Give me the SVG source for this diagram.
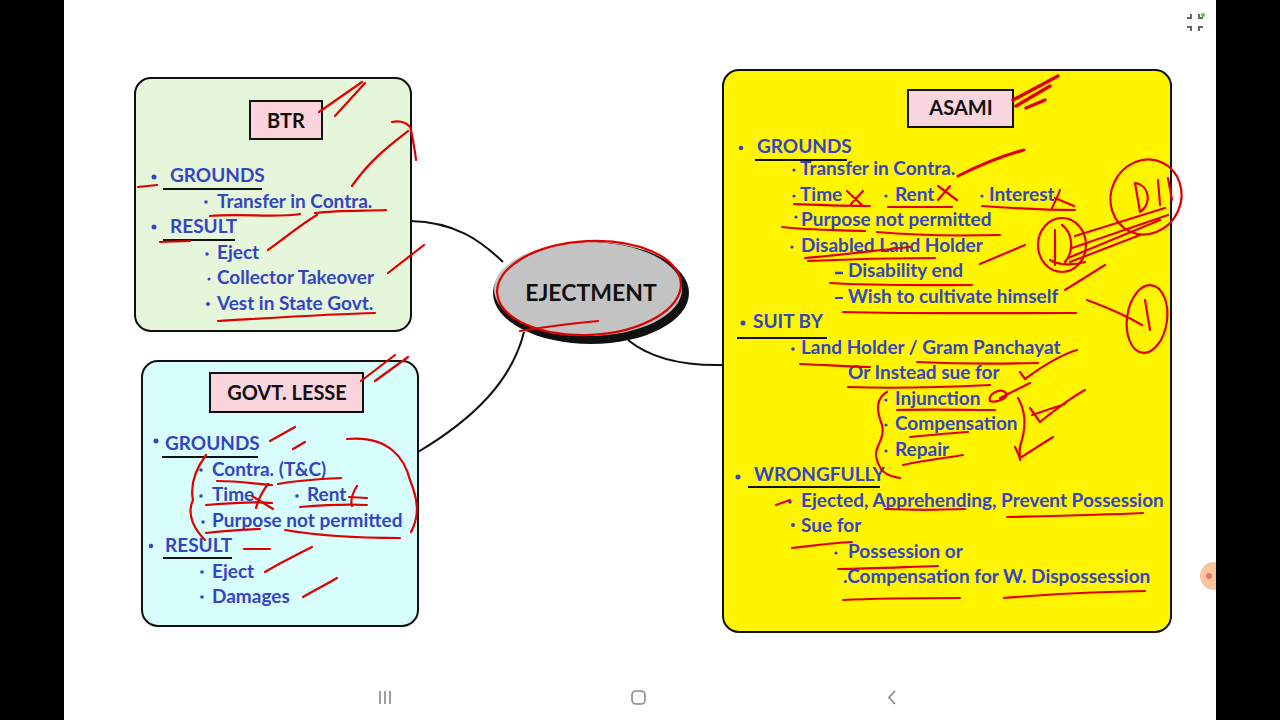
<svg xmlns="http://www.w3.org/2000/svg" width="1280" height="720" viewBox="0 0 1280 720">
<defs>
<style>
.t{font-family:Lato,"Open Sans","Liberation Sans",sans-serif;font-weight:bold;font-size:19px;fill:#3445c2}
.h{font-family:Lato,"Open Sans","Liberation Sans",sans-serif;font-weight:bold;font-size:20px;fill:#111;text-anchor:middle}
.box{stroke:#111;stroke-width:2}
.ttl{fill:#fbd5de;stroke:#111;stroke-width:2}
.ul{stroke:#111;stroke-width:2}
.b{fill:#3445c2}
.con{fill:none;stroke:#111;stroke-width:2}
.r{fill:none;stroke:#e00000;stroke-width:2.2;stroke-linecap:round;stroke-linejoin:round}
.nav{fill:none;stroke:#888;stroke-width:1.6}
</style>
</defs>
<rect x="0" y="0" width="1280" height="720" fill="#ffffff"/>

<g id="connectors">
<path class="con" d="M410,221 C455,222 480,240 503,262"/>
<path class="con" d="M418,452 C475,418 512,380 524,332"/>
<path class="con" d="M628,340 C650,358 680,366 723,365"/>
</g>

<g id="btr">
<rect class="box" x="135" y="78" width="276" height="253" rx="16" fill="#e5f6da"/>
<rect class="ttl" x="250" y="101" width="72" height="38"/>
<text class="h" x="286" y="128">BTR</text>
<circle class="b" cx="154" cy="177" r="2.5"/>
<text class="t" x="170" y="182">GROUNDS</text>
<line class="ul" x1="163" y1="189" x2="262" y2="189"/>
<circle class="b" cx="206" cy="202" r="1.8"/>
<text class="t" x="217" y="208">Transfer in Contra.</text>
<circle class="b" cx="154" cy="227" r="2.5"/>
<text class="t" x="170" y="233">RESULT</text>
<line class="ul" x1="163" y1="240" x2="235" y2="240"/>
<circle class="b" cx="207" cy="254" r="1.8"/>
<text class="t" x="217" y="259">Eject</text>
<circle class="b" cx="209" cy="279" r="1.5"/>
<text class="t" x="217" y="284">Collector Takeover</text>
<circle class="b" cx="208" cy="304" r="2"/>
<text class="t" x="217" y="310">Vest in State Govt.</text>
</g>

<g id="govt-lesse">
<rect class="box" x="142" y="361" width="276" height="265" rx="16" fill="#d8fdfd"/>
<rect class="ttl" x="210" y="373" width="153" height="39"/>
<text class="h" x="287" y="400">GOVT. LESSE</text>
<circle class="b" cx="156" cy="441" r="2.5"/>
<text class="t" x="165" y="450">GROUNDS</text>
<line class="ul" x1="162" y1="457" x2="258" y2="457"/>
<circle class="b" cx="201" cy="470" r="1.8"/>
<text class="t" x="212" y="476">Contra. (T&amp;C)</text>
<circle class="b" cx="201" cy="496" r="1.8"/>
<text class="t" x="212" y="501">Time</text>
<circle class="b" cx="297" cy="496" r="1.8"/>
<text class="t" x="307" y="501">Rent</text>
<circle class="b" cx="203" cy="522" r="1.8"/>
<text class="t" x="212" y="527">Purpose not permitted</text>
<circle class="b" cx="151" cy="546" r="2.2"/>
<text class="t" x="165" y="552">RESULT</text>
<line class="ul" x1="163" y1="558" x2="232" y2="558"/>
<circle class="b" cx="202" cy="572" r="1.8"/>
<text class="t" x="212" y="578">Eject</text>
<circle class="b" cx="202" cy="597" r="1.8"/>
<text class="t" x="212" y="603">Damages</text>
</g>

<g id="ejectment">
<ellipse cx="591" cy="293" rx="98" ry="51" fill="#111"/>
<ellipse cx="588" cy="289" rx="94" ry="47" fill="#c3c3c3"/>
<text class="h" x="591" y="301" style="font-size:23px">EJECTMENT</text>
</g>

<g id="asami">
<rect class="box" x="723" y="70" width="448" height="562" rx="16" fill="#fff500"/>
<rect class="ttl" x="908" y="90" width="105" height="37"/>
<text class="h" x="961" y="115">ASAMI</text>
<circle class="b" cx="741" cy="148" r="2.3"/>
<text class="t" x="757" y="153">GROUNDS</text>
<line class="ul" x1="755" y1="160" x2="847" y2="160"/>
<circle class="b" cx="794" cy="170" r="1.6"/>
<text class="t" x="800" y="175">Transfer in Contra.</text>
<circle class="b" cx="794" cy="196" r="1.6"/>
<text class="t" x="800" y="201">Time</text>
<circle class="b" cx="886" cy="196" r="1.6"/>
<text class="t" x="895" y="201">Rent</text>
<circle class="b" cx="982" cy="196" r="1.6"/>
<text class="t" x="989" y="201">Interest</text>
<circle class="b" cx="796" cy="217" r="1.6"/>
<text class="t" x="801" y="226">Purpose not permitted</text>
<circle class="b" cx="792" cy="247" r="1.6"/>
<text class="t" x="801" y="252">Disabled Land Holder</text>
<line x1="835" y1="273" x2="843" y2="273" stroke="#3445c2" stroke-width="2.5"/>
<text class="t" x="848" y="277">Disability end</text>
<line x1="835" y1="298" x2="843" y2="298" stroke="#3445c2" stroke-width="2"/>
<text class="t" x="848" y="303">Wish to cultivate himself</text>
<circle class="b" cx="743" cy="323" r="2.5"/>
<text class="t" x="753" y="328">SUIT BY</text>
<line class="ul" x1="737" y1="338" x2="827" y2="338"/>
<circle class="b" cx="793" cy="349" r="1.8"/>
<text class="t" x="801" y="354">Land Holder / Gram Panchayat</text>
<text class="t" x="848" y="379">Or Instead sue for</text>
<circle class="b" cx="886" cy="400" r="1.6"/>
<text class="t" x="895" y="405">Injunction</text>
<circle class="b" cx="886" cy="425" r="1.6"/>
<text class="t" x="895" y="430">Compensation</text>
<circle class="b" cx="886" cy="451" r="1.6"/>
<text class="t" x="895" y="456">Repair</text>
<circle class="b" cx="738" cy="477" r="2.5"/>
<text class="t" x="754" y="481">WRONGFULLY</text>
<line class="ul" x1="748" y1="487" x2="880" y2="487"/>
<circle class="b" cx="790" cy="502" r="1.8"/>
<text class="t" x="801" y="507">Ejected, Apprehending, Prevent Possession</text>
<circle class="b" cx="793" cy="525" r="2"/>
<text class="t" x="801" y="532">Sue for</text>
<circle class="b" cx="836" cy="553" r="1.6"/>
<text class="t" x="848" y="558">Possession or</text>
<text class="t" x="843" y="583">.Compensation for W. Dispossession</text>
</g>

<g id="annotations">
<path class="r" d="M319,112 L362,82 M335,116 L365,83"/>
<path class="r" d="M352,186 C370,160 390,145 408,131 M392,122 C402,120 410,124 411,130 C413,140 415,150 416,160"/>
<path class="r" d="M138,187 L157,185"/>
<path class="r" d="M210,216 C240,213 275,218 300,214 M315,213 C340,210 365,211 386,210"/>
<path class="r" d="M160,242 L190,241"/>
<path class="r" d="M268,250 C285,238 300,225 317,215"/>
<path class="r" d="M388,273 L424,245"/>
<path class="r" d="M218,321 C270,318 330,314 375,313"/>
<path class="r" d="M361,381 L395,355 M375,381 L408,357"/>
<path class="r" d="M270,441 L295,427 M293,449 L305,442"/>
<path class="r" d="M347,439 C390,435 405,460 410,480 C418,500 420,515 411,532"/>
<path class="r" d="M206,455 C195,470 190,485 193,500 C186,515 195,530 205,540"/>
<path class="r" d="M217,481 C240,481 255,484 272,485 M278,484 C300,480 320,479 341,478"/>
<path class="r" d="M206,505 C230,503 255,501 272,503 M300,507 C325,505 345,504 367,505"/>
<path class="r" d="M252,496 L273,509 M268,484 C262,492 258,500 256,508 M357,486 C352,494 350,500 352,506 M349,497 L367,498"/>
<path class="r" d="M206,533 C225,531 245,529 260,529 M285,530 C320,536 360,538 400,538"/>
<path class="r" d="M244,549 L270,549"/>
<path class="r" d="M265,572 C280,563 298,554 312,547 M303,597 C315,590 327,584 337,578"/>
<ellipse class="r" cx="589" cy="288" rx="92" ry="47" transform="rotate(-3 589 288)"/>
<path class="r" d="M520,331 C545,327 575,323 598,321"/>
<path class="r" d="M1013,100 L1058,76 M1016,106 L1050,86 M1026,108 L1045,100" style="stroke-width:3.5"/>
<path class="r" d="M958,176 C980,165 1005,155 1024,150" style="stroke-width:3"/>
<path class="r" d="M794,204 C820,205 845,206 870,206 M847,191 L862,205 M863,191 L851,204"/>
<path class="r" d="M888,207 L952,207 M938,186 L957,200 M950,186 L938,200"/>
<path class="r" d="M982,206 C1010,208 1045,210 1075,210 M1060,190 C1058,196 1054,204 1052,208 M1055,198 L1074,206"/>
<path class="r" d="M782,227 C805,230 840,230 865,231 M877,232 C920,236 960,236 1000,235"/>
<path class="r" d="M808,261 C850,259 900,258 935,258 M805,258 C840,255 880,250 910,247"/>
<path class="r" d="M830,283 C880,286 930,285 972,285"/>
<path class="r" d="M843,312 C920,314 1000,313 1076,313"/>
<path class="r" d="M980,264 L1025,245"/>
<ellipse class="r" cx="1062" cy="245" rx="24" ry="27"/>
<ellipse class="r" cx="1146" cy="197" rx="35" ry="38" transform="rotate(25 1146 197)"/>
<path class="r" d="M1075,236 L1165,208 M1072,248 L1168,215 M1068,258 L1160,220 M1070,262 L1140,235"/>
<path class="r" d="M1055,230 L1055,265 M1062,225 C1072,232 1075,250 1065,262 M1050,260 C1060,266 1075,265 1085,262"/>
<path class="r" d="M1135,183 L1140,212 M1135,183 C1150,185 1152,205 1140,212 M1158,180 L1160,205 M1168,178 L1172,200"/>
<path class="r" d="M1065,290 L1105,265"/>
<path class="r" d="M1087,300 C1100,305 1120,312 1142,325"/>
<ellipse class="r" cx="1147" cy="319" rx="20" ry="34" transform="rotate(8 1147 319)"/>
<path class="r" d="M1145,300 L1150,330"/>
<path class="r" d="M800,364 C830,365 850,367 870,367 M917,362 C960,364 1000,364 1038,363"/>
<path class="r" d="M848,387 C900,389 950,387 990,385"/>
<path class="r" d="M1020,372 L1025,379 C1040,368 1060,355 1077,350"/>
<path class="r" d="M990,401 C988,395 998,388 1005,392 C1012,398 995,403 990,401 M1000,398 L1030,383"/>
<path class="r" d="M1018,398 C1025,410 1026,425 1022,440 C1018,450 1020,455 1020,460"/>
<path class="r" d="M1030,408 L1040,422 C1055,410 1070,398 1085,390 M1032,415 L1065,404"/>
<path class="r" d="M1015,447 L1020,458 L1053,437"/>
<path class="r" d="M887,392 C876,398 876,410 882,425 C886,440 872,448 877,460 C880,470 885,476 900,478"/>
<path class="r" d="M897,410 C930,409 965,410 995,410"/>
<path class="r" d="M910,437 C930,435 950,433 968,432"/>
<path class="r" d="M903,465 C925,460 945,458 963,455"/>
<path class="r" d="M776,505 L790,500"/>
<path class="r" d="M885,509 C910,510 940,510 965,509"/>
<path class="r" d="M1007,517 C1050,516 1100,515 1143,513"/>
<path class="r" d="M792,548 C810,546 830,543 852,542"/>
<path class="r" d="M838,569 C870,569 905,567 938,566"/>
<path class="r" d="M843,600 C880,598 920,598 960,598"/>
<path class="r" d="M1004,598 C1050,594 1100,592 1145,591"/>
</g>

<g id="ui">
<path d="M1187,18 h4 v-4 M1199,14 v4 h4 M1187,27 h4 v4 M1199,31 v-4 h4" fill="none" stroke="#666" stroke-width="2"/>
<circle cx="1203" cy="15" r="2" fill="#4c4"/>
<circle cx="1214" cy="576" r="14" fill="#f6c79a"/>
<circle cx="1209" cy="576" r="3" fill="#f07070"/>
<path class="nav" d="M380,691 v13 M385,691 v13 M390,691 v13"/>
<rect class="nav" x="632" y="691" width="13" height="13" rx="4"/>
<path class="nav" d="M895,691 l-6,6.5 l6,6.5"/>
</g>
<rect x="0" y="0" width="64" height="720" fill="#000"/>
<rect x="1216" y="0" width="64" height="720" fill="#000"/>
</svg>
